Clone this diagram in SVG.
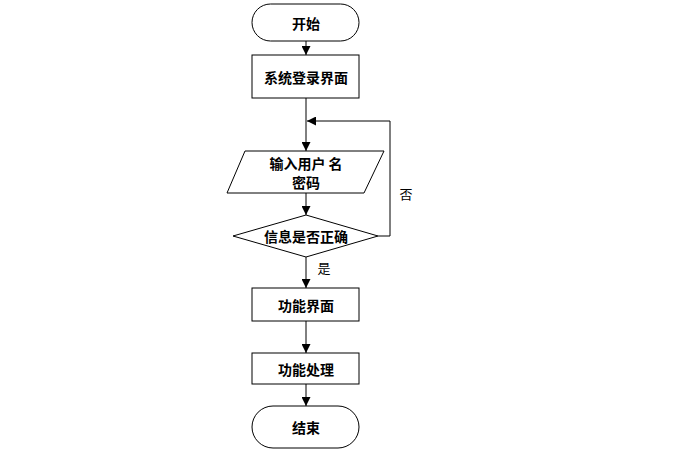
<svg xmlns="http://www.w3.org/2000/svg" width="675" height="450" viewBox="0 0 675 450">
<style>
.s{fill:#fff;stroke:#000;stroke-width:1}
.t{font-family:"Noto Sans CJK SC","Liberation Sans",sans-serif;font-size:14px;font-weight:bold;text-anchor:middle;dominant-baseline:central;fill:#000}
.l{font-family:"Noto Sans CJK SC","Liberation Sans",sans-serif;font-size:13px;text-anchor:middle;dominant-baseline:central;fill:#000}
.c{fill:none;stroke:#000;stroke-width:1}
</style>
<defs>
<marker id="a" viewBox="0 0 10 10" refX="10" refY="5" markerWidth="9" markerHeight="9" markerUnits="userSpaceOnUse" orient="auto">
<path d="M0,0 L10,5 L0,10 z" fill="#000"/>
</marker>
</defs>
<rect width="675" height="450" fill="#fff"/>
<g id="connectors">
<line class="c" x1="306" y1="41" x2="306" y2="55" marker-end="url(#a)"/>
<line class="c" x1="306" y1="98" x2="306" y2="151" marker-end="url(#a)"/>
<line class="c" x1="306" y1="193" x2="306" y2="215" marker-end="url(#a)"/>
<polyline class="c" points="378,236 390,236 390,121 307,121" marker-end="url(#a)"/>
<line class="c" x1="306" y1="257" x2="306" y2="288" marker-end="url(#a)"/>
<line class="c" x1="306" y1="321" x2="306" y2="353" marker-end="url(#a)"/>
<line class="c" x1="306" y1="384" x2="306" y2="406" marker-end="url(#a)"/>
<text class="l" x="406" y="193">否</text>
<text class="l" x="324" y="267">是</text>
</g>
<g id="start">
<rect class="s" x="252" y="4" width="107" height="37" rx="18.5"/>
<text class="t" x="306" y="22.5">开始</text>
</g>
<g id="login">
<rect class="s" x="252" y="55" width="107" height="43"/>
<text class="t" x="306" y="76.5">系统登录界面</text>
</g>
<g id="input">
<polygon class="s" points="245,151 384,151 364,193 227,193"/>
<text class="t" x="306" y="163" xml:space="preserve">输入用户 名</text>
<text class="t" x="306" y="182">密码</text>
</g>
<g id="check">
<polygon class="s" points="306,215 378,236 306,257 233,236"/>
<text class="t" x="306" y="236">信息是否正确</text>
</g>
<g id="func">
<rect class="s" x="252" y="288" width="107" height="33"/>
<text class="t" x="306" y="304.5">功能界面</text>
</g>
<g id="proc">
<rect class="s" x="252" y="353" width="107" height="31"/>
<text class="t" x="306" y="368.5">功能处理</text>
</g>
<g id="end">
<rect class="s" x="252" y="406" width="107" height="42" rx="21"/>
<text class="t" x="306" y="427">结束</text>
</g>
</svg>
